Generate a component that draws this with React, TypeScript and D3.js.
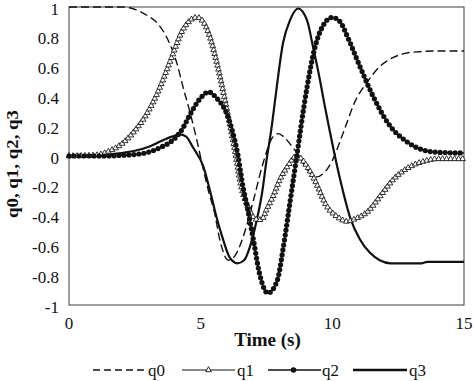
import React, { useEffect, useRef } from "react";
import * as d3 from "d3";

// ---- data ----
const tQ0 = [0, 2.0, 2.4, 2.7, 3.0, 3.25, 3.7, 4.1, 4.35, 4.6, 4.85, 5.1, 5.35, 5.5, 5.75, 6.05, 6.3, 6.6, 7.0, 7.35, 7.75, 7.95, 8.15, 8.4, 8.7, 9.0, 9.4, 9.7, 10.0, 10.4, 10.9, 11.3, 11.8, 12.3, 12.8, 13.3, 14, 15];
const vQ0 = [1, 1, 0.99, 0.97, 0.94, 0.91, 0.8, 0.62, 0.45, 0.29, 0.11, -0.09, -0.27, -0.36, -0.58, -0.7, -0.67, -0.55, -0.3, -0.06, 0.13, 0.15, 0.13, 0.08, 0.01, -0.08, -0.14, -0.11, -0.03, 0.15, 0.38, 0.49, 0.6, 0.66, 0.69, 0.7, 0.705, 0.705];

const tQ1 = [0, 1.0, 1.5, 2.0, 2.5, 2.8, 3.1, 3.4, 3.85, 4.3, 4.6, 4.85, 5.1, 5.35, 5.65, 6.0, 6.3, 6.55, 6.8, 7.0, 7.2, 7.35, 7.5, 7.75, 8.0, 8.3, 8.65, 9.0, 9.3, 9.8, 10.2, 10.55, 10.9, 11.3, 11.9, 12.3, 12.7, 13.1, 13.5, 14, 15];
const vQ1 = [0, 0.005, 0.03, 0.08, 0.17, 0.24, 0.33, 0.44, 0.64, 0.84, 0.91, 0.93, 0.9, 0.8, 0.6, 0.31, 0.04, -0.21, -0.34, -0.41, -0.43, -0.42, -0.36, -0.27, -0.16, -0.07, 0, -0.06, -0.15, -0.34, -0.41, -0.44, -0.42, -0.38, -0.25, -0.16, -0.1, -0.06, -0.035, -0.02, -0.02];

const tQ2 = [0, 1.5, 2.0, 2.5, 3.1, 3.5, 3.9, 4.3, 4.6, 5.0, 5.3, 5.6, 6.0, 6.2, 6.4, 6.6, 6.8, 7.0, 7.25, 7.55, 7.9, 8.15, 8.4, 8.65, 9.0, 9.34, 9.6, 10.0, 10.3, 10.6, 11.05, 11.55, 12.2, 12.8, 13.45, 14, 15];
const vQ2 = [0, 0, 0.005, 0.01, 0.03, 0.06, 0.1, 0.18, 0.28, 0.39, 0.43, 0.39, 0.28, 0.17, 0.02, -0.2, -0.37, -0.56, -0.8, -0.92, -0.84, -0.6, -0.3, 0, 0.42, 0.73, 0.86, 0.93, 0.9, 0.79, 0.6, 0.4, 0.2, 0.1, 0.04, 0.025, 0.02];

const tQ3 = [0, 1.0, 2.0, 2.5, 3.0, 3.5, 3.9, 4.2, 4.45, 4.7, 5.1, 5.35, 5.6, 5.85, 6.1, 6.4, 6.65, 6.87, 7.13, 7.33, 7.5, 7.7, 7.83, 8.13, 8.39, 8.7, 9.04, 9.27, 9.53, 9.72, 9.9, 10.3, 10.67, 11.05, 11.43, 11.8, 12.2, 12.8, 13.4, 13.6, 15];
const vQ3 = [0, 0.005, 0.02, 0.035, 0.06, 0.1, 0.13, 0.145, 0.13, 0.06, -0.07, -0.23, -0.41, -0.56, -0.68, -0.72, -0.7, -0.61, -0.43, -0.25, -0.03, 0.2, 0.38, 0.76, 0.91, 0.99, 0.91, 0.73, 0.51, 0.33, 0.17, -0.16, -0.41, -0.56, -0.65, -0.7, -0.72, -0.72, -0.72, -0.71, -0.71];

const yTicks = [1, 0.8, 0.6, 0.4, 0.2, 0, -0.2, -0.4, -0.6, -0.8, -1];
const yTickLabels = ["1", "0.8", "0.6", "0.4", "0.2", "0", "-0.2", "-0.4", "-0.6", "-0.8", "-1"];
const xTicks = [0, 5, 10, 15];
const xTickLabels = ["0", "5", "10", "15"];
const seriesNames = ["q0", "q1", "q2", "q3"];
const xTitle = "Time (s)";
const yTitle = "q0, q1, q2, q3";

const FONT = "Liberation Serif, Times New Roman, serif";

export default function App() {
  const ref = useRef<SVGSVGElement>(null);

  useEffect(() => {
    const svg = d3.select(ref.current);
    svg.selectAll("*").remove();
    const L = 69, R = 464, T = 7, B = 305;
    const x = d3.scaleLinear().domain([0, 15]).range([L, R]);
    const y = d3.scaleLinear().domain([-1, 1]).range([B, T]);

    svg.append("rect").attr("width", 474).attr("height", 381).attr("fill", "#fff");

    // frame
    svg.append("rect")
      .attr("x", L).attr("y", T).attr("width", R - L).attr("height", B - T)
      .attr("fill", "none").attr("stroke", "#3a3a3a").attr("stroke-width", 1);

    // y tick labels
    svg.append("g").selectAll("text").data(yTicks).join("text")
      .attr("x", 59).attr("y", (d) => y(d) + 7.5)
      .attr("text-anchor", "end")
      .style("font-family", FONT).attr("font-size", 17).attr("fill", "#111")
      .text((d, i) => yTickLabels[i]);

    // x tick labels
    svg.append("g").selectAll("text").data(xTicks).join("text")
      .attr("x", (d) => x(d)).attr("y", 329)
      .attr("text-anchor", "middle")
      .style("font-family", FONT).attr("font-size", 17).attr("fill", "#111")
      .text((d, i) => xTickLabels[i]);

    svg.append("text")
      .attr("x", (L + R) / 2 + 1).attr("y", 346)
      .attr("text-anchor", "middle")
      .style("font-family", FONT).attr("font-size", 19).attr("font-weight", "bold").attr("fill", "#111")
      .text(xTitle);

    svg.append("text")
      .attr("transform", `translate(18,164) rotate(-90)`)
      .attr("text-anchor", "middle")
      .attr("textLength", 108).attr("lengthAdjust", "spacingAndGlyphs")
      .style("font-family", FONT).attr("font-size", 17).attr("font-weight", "bold").attr("fill", "#111")
      .text(yTitle);

    const mk = (ts: number[], vs: number[]) => ts.map((t, i) => [t, vs[i]] as [number, number]);
    const line = d3.line<[number, number]>()
      .x((d) => x(d[0])).y((d) => y(d[1]))
      .curve(d3.curveMonotoneX);

    const plot = svg.append("g");

    plot.append("path").attr("d", line(mk(tQ0, vQ0)))
      .attr("fill", "none").attr("stroke", "#111").attr("stroke-width", 1.4)
      .attr("stroke-dasharray", "8,4");

    const p1 = plot.append("path").attr("d", line(mk(tQ1, vQ1)))
      .attr("fill", "none").attr("stroke", "#111").attr("stroke-width", 1);

    const p3 = plot.append("path").attr("d", line(mk(tQ3, vQ3)))
      .attr("fill", "none").attr("stroke", "#111").attr("stroke-width", 2.2);

    const p2 = plot.append("path").attr("d", line(mk(tQ2, vQ2)))
      .attr("fill", "none").attr("stroke", "#111").attr("stroke-width", 1.3);

    const sample = (node: SVGPathElement, step: number) => {
      const len = node.getTotalLength();
      const pts: [number, number][] = [];
      for (let s = 0; s <= len; s += step) {
        const p = node.getPointAtLength(s);
        pts.push([p.x, p.y]);
      }
      return pts;
    };

    const tri = d3.symbol().type(d3.symbolTriangle).size(14);
    const pts1 = sample(p1.node() as SVGPathElement, 4);
    plot.append("g").selectAll("path").data(pts1).join("path")
      .attr("d", tri as any)
      .attr("transform", (d) => `translate(${d[0]},${d[1]})`)
      .attr("fill", "#fff").attr("stroke", "#111").attr("stroke-width", 0.85);

    const pts2 = sample(p2.node() as SVGPathElement, 5);
    plot.append("g").selectAll("circle").data(pts2).join("circle")
      .attr("cx", (d) => d[0]).attr("cy", (d) => d[1]).attr("r", 2.6)
      .attr("fill", "#111");

    // legend
    const ly = 370;
    const lg = svg.append("g");
    const items = [
      { x0: 93, x1: 145, tx: 148 },
      { x0: 182, x1: 235, tx: 237 },
      { x0: 268, x1: 321, tx: 322 },
      { x0: 353, x1: 407, tx: 409 },
    ];
    items.forEach((it, i) => {
      const l = lg.append("line")
        .attr("x1", it.x0).attr("x2", it.x1).attr("y1", ly).attr("y2", ly)
        .attr("stroke", "#111");
      if (i === 0) l.attr("stroke-width", 1.4).attr("stroke-dasharray", "7,4");
      if (i === 1) l.attr("stroke-width", 1);
      if (i === 2) l.attr("stroke-width", 1.3);
      if (i === 3) l.attr("stroke-width", 2.6);
      if (i === 1) {
        lg.append("path").attr("d", tri as any)
          .attr("transform", `translate(${(it.x0 + it.x1) / 2},${ly})`)
          .attr("fill", "#fff").attr("stroke", "#111").attr("stroke-width", 0.9);
      }
      if (i === 2) {
        lg.append("circle").attr("cx", (it.x0 + it.x1) / 2 - 1).attr("cy", ly).attr("r", 2.8).attr("fill", "#111");
      }
      lg.append("text").attr("x", it.tx).attr("y", ly + 6)
        .style("font-family", FONT).attr("font-size", 17).attr("fill", "#111")
        .text(seriesNames[i]);
    });
  }, []);

  return (
    <svg
      ref={ref}
      width={474}
      height={381}
      style={{ position: "absolute", left: 0, top: 0, display: "block" }}
    />
  );
}
